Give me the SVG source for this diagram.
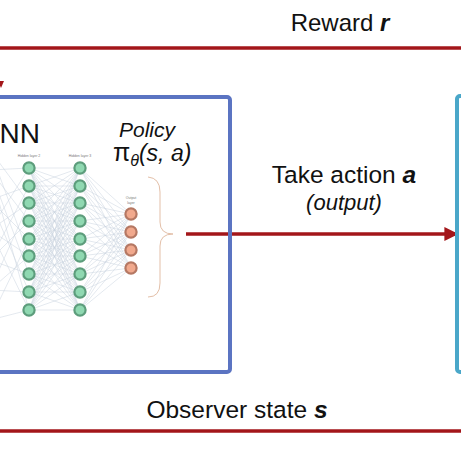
<svg xmlns="http://www.w3.org/2000/svg" width="461" height="461" viewBox="0 0 461 461">
<style>
.t{font-family:"Liberation Sans",Arial,sans-serif;fill:#111}
.red{stroke:#a3161a;stroke-width:3.5;fill:none}
.w{stroke:#c9d3de;stroke-width:0.5}
.h{fill:#8fd8b1;stroke:#5d9d7c;stroke-width:2.2}
.o{fill:#f1a98d;stroke:#b57863;stroke-width:2.2}
.tiny{font-family:"Liberation Sans",Arial,sans-serif;font-size:3.5px;fill:#777;text-anchor:middle}
</style>
<defs>
<marker id="ah" viewBox="0 0 10 10" refX="9" refY="5" markerWidth="4" markerHeight="4" markerUnits="strokeWidth" orient="auto">
<path d="M0,0 L10,5 L0,10 z" fill="#a3161a"/>
</marker>
</defs>
<rect width="461" height="461" fill="#fff"/>

<g id="connectors">
<line class="red" x1="0" y1="48" x2="461" y2="48"/>
<path d="M-2,81 L4,81 L1,88 z" fill="#a3161a"/>
<line class="red" x1="186" y1="234" x2="457" y2="234" marker-end="url(#ah)"/>
<line class="red" x1="0" y1="431" x2="461" y2="431"/>
</g>

<g id="nn">
<rect x="-20" y="97" width="250" height="275" rx="3" fill="none" stroke="#5b74c2" stroke-width="4"/>
<g id="weights">
<path class="w" d="M-10,170 L29,168 M-10,170 L29,221 M-10,170 L29,274 M-10,170 L29,310 M-10,200 L29,186 M-10,200 L29,239 M-10,200 L29,292 M-10,230 L29,168 M-10,230 L29,203 M-10,230 L29,256 M-10,230 L29,310 M-10,260 L29,186 M-10,260 L29,221 M-10,260 L29,274 M-10,290 L29,203 M-10,290 L29,256 M-10,290 L29,292 M-10,320 L29,239 M-10,320 L29,310 M-10,150 L29,203 M-10,150 L29,256"/>
<path class="w" d="M29,168 L80,168 M29,168 L80,186 M29,168 L80,203 M29,168 L80,221 M29,168 L80,239 M29,168 L80,256 M29,168 L80,274 M29,168 L80,292 M29,168 L80,310 M29,186 L80,168 M29,186 L80,186 M29,186 L80,203 M29,186 L80,221 M29,186 L80,239 M29,186 L80,256 M29,186 L80,274 M29,186 L80,292 M29,186 L80,310 M29,203 L80,168 M29,203 L80,186 M29,203 L80,203 M29,203 L80,221 M29,203 L80,239 M29,203 L80,256 M29,203 L80,274 M29,203 L80,292 M29,203 L80,310 M29,221 L80,168 M29,221 L80,186 M29,221 L80,203 M29,221 L80,221 M29,221 L80,239 M29,221 L80,256 M29,221 L80,274 M29,221 L80,292 M29,221 L80,310 M29,239 L80,168 M29,239 L80,186 M29,239 L80,203 M29,239 L80,221 M29,239 L80,239 M29,239 L80,256 M29,239 L80,274 M29,239 L80,292 M29,239 L80,310 M29,256 L80,168 M29,256 L80,186 M29,256 L80,203 M29,256 L80,221 M29,256 L80,239 M29,256 L80,256 M29,256 L80,274 M29,256 L80,292 M29,256 L80,310 M29,274 L80,168 M29,274 L80,186 M29,274 L80,203 M29,274 L80,221 M29,274 L80,239 M29,274 L80,256 M29,274 L80,274 M29,274 L80,292 M29,274 L80,310 M29,292 L80,168 M29,292 L80,186 M29,292 L80,203 M29,292 L80,221 M29,292 L80,239 M29,292 L80,256 M29,292 L80,274 M29,292 L80,292 M29,292 L80,310 M29,310 L80,168 M29,310 L80,186 M29,310 L80,203 M29,310 L80,221 M29,310 L80,239 M29,310 L80,256 M29,310 L80,274 M29,310 L80,292 M29,310 L80,310"/>
<path class="w" d="M80,168 L131,214 M80,168 L131,232 M80,168 L131,250 M80,168 L131,268 M80,186 L131,214 M80,186 L131,232 M80,186 L131,250 M80,186 L131,268 M80,203 L131,214 M80,203 L131,232 M80,203 L131,250 M80,203 L131,268 M80,221 L131,214 M80,221 L131,232 M80,221 L131,250 M80,221 L131,268 M80,239 L131,214 M80,239 L131,232 M80,239 L131,250 M80,239 L131,268 M80,256 L131,214 M80,256 L131,232 M80,256 L131,250 M80,256 L131,268 M80,274 L131,214 M80,274 L131,232 M80,274 L131,250 M80,274 L131,268 M80,292 L131,214 M80,292 L131,232 M80,292 L131,250 M80,292 L131,268 M80,310 L131,214 M80,310 L131,232 M80,310 L131,250 M80,310 L131,268"/>
</g>
<g id="layer2">
<circle class="h" cx="29" cy="168" r="5.6"/><circle class="h" cx="29" cy="186" r="5.6"/><circle class="h" cx="29" cy="203" r="5.6"/><circle class="h" cx="29" cy="221" r="5.6"/><circle class="h" cx="29" cy="239" r="5.6"/><circle class="h" cx="29" cy="256" r="5.6"/><circle class="h" cx="29" cy="274" r="5.6"/><circle class="h" cx="29" cy="292" r="5.6"/><circle class="h" cx="29" cy="310" r="5.6"/>
<text class="tiny" x="29" y="157">Hidden layer 2</text>
</g>
<g id="layer3">
<circle class="h" cx="80" cy="168" r="5.6"/><circle class="h" cx="80" cy="186" r="5.6"/><circle class="h" cx="80" cy="203" r="5.6"/><circle class="h" cx="80" cy="221" r="5.6"/><circle class="h" cx="80" cy="239" r="5.6"/><circle class="h" cx="80" cy="256" r="5.6"/><circle class="h" cx="80" cy="274" r="5.6"/><circle class="h" cx="80" cy="292" r="5.6"/><circle class="h" cx="80" cy="310" r="5.6"/>
<text class="tiny" x="80" y="157">Hidden layer 3</text>
</g>
<g id="output">
<circle class="o" cx="131" cy="214" r="5.6"/><circle class="o" cx="131" cy="232" r="5.6"/><circle class="o" cx="131" cy="250" r="5.6"/><circle class="o" cx="131" cy="268" r="5.6"/>
<text class="tiny" x="131" y="199">Output</text>
<text class="tiny" x="131" y="203.5">layer</text>
</g>
<path d="M148,177 Q160,178 160,192 L160,222 Q160,234 173,234 Q160,234 160,246 L160,283 Q160,297 148,297" fill="none" stroke="#e3bfa8" stroke-width="1"/>
<text class="t" x="40" y="143" font-size="28" text-anchor="end">NN</text>
<text class="t" x="147" y="137" font-size="21" font-style="italic" text-anchor="middle">Policy</text>
<text class="t" x="113" y="161" font-size="25"><tspan>π</tspan><tspan font-size="16" dy="5" font-style="italic">θ</tspan><tspan dy="-5" font-size="23" font-style="italic">(s, a)</tspan></text>
</g>

<g id="environment">
<rect x="457" y="96" width="30" height="276" rx="3" fill="none" stroke="#4aa7c9" stroke-width="4"/>
</g>

<g id="labels">
<text class="t" x="340" y="31" font-size="24" text-anchor="middle">Reward <tspan font-weight="bold" font-style="italic">r</tspan></text>
<text class="t" x="344" y="183" font-size="24.5" text-anchor="middle">Take action <tspan font-weight="bold" font-style="italic">a</tspan></text>
<text class="t" x="344" y="210" font-size="22" font-style="italic" text-anchor="middle">(output)</text>
<text class="t" x="237" y="418" font-size="24.5" text-anchor="middle">Observer state <tspan font-weight="bold" font-style="italic">s</tspan></text>
</g>
</svg>
